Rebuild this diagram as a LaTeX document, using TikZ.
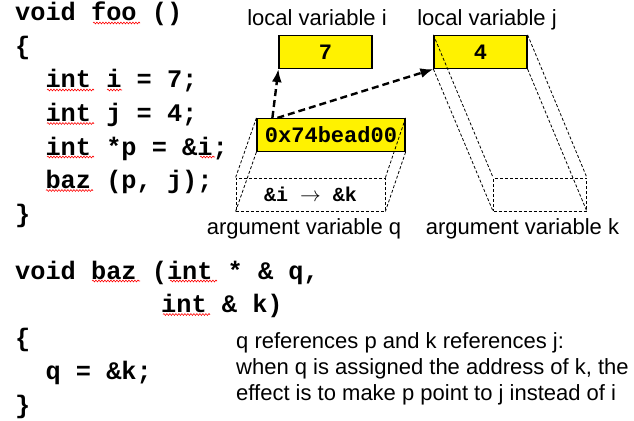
\documentclass[tikz,border=0pt]{standalone}
\usepackage{fontspec}
\setmainfont{Liberation Sans}
\setmonofont{Liberation Mono}
\usetikzlibrary{arrows.meta,decorations.pathmorphing}
\newcommand{\codesize}{\fontsize{25.3}{30}\selectfont}
\newcommand{\txtsize}{\fontsize{22}{26}\selectfont}
\tikzset{
    codesty/.style={anchor=base west, inner sep=0pt, font=\ttfamily\bfseries\codesize},
    labelsty/.style={anchor=base, inner sep=0pt, font=\txtsize},
    notesty/.style={anchor=base west, inner sep=0pt, font=\txtsize},
    valsty/.style={draw, line width=1.2pt, fill=yellow, rectangle, inner sep=0pt, minimum height=33pt, font=\ttfamily\bfseries\txtsize},
    argsty/.style={draw, line width=0.8pt, dash pattern=on 3pt off 2pt, rectangle, inner sep=0pt, minimum height=33pt, font=\ttfamily\bfseries\fontsize{20}{24}\selectfont},
    caststy/.style={line width=0.8pt, dash pattern=on 3pt off 2pt},
    ptrsty/.style={-{Latex[length=13pt,width=10pt]}, line width=2.4pt, dash pattern=on 7pt off 4pt},
    squigsty/.style={red, line width=0.6pt, decorate, decoration={snake, amplitude=0.9pt, segment length=3pt}},
}

\begin{document}
\begin{tikzpicture}[x=1pt,y=-1pt]
  \useasboundingbox (0,0) rectangle (634,420);

  % caller
  \node[codesty] (foo0) at (15,21)    {void foo ()};
  \node[codesty] (foo1) at (15,54.5)  {\{};
  \node[codesty] (foo2) at (15,88)    {\ \ int i = 7;};
  \node[codesty] (foo3) at (15,121.5) {\ \ int j = 4;};
  \node[codesty] (foo4) at (15,155)   {\ \ int *p = \&i;};
  \node[codesty] (foo5) at (15,188.5) {\ \ baz (p, j);};
  \node[codesty] (foo6) at (15,222)   {\}};

  % callee
  \node[codesty] (baz0) at (15,279)   {void baz (int * \& q,};
  \node[codesty] (baz1) at (161,312.5) {int \& k)};
  \node[codesty] (baz2) at (15,346)   {\{};
  \node[codesty] (baz3) at (15,379.5) {\ \ q = \&k;};
  \node[codesty] (baz4) at (15,413)   {\}};

  % spell checker marks
  \foreach \a/\b/\y in {93/140/23, 47/94/90, 107/122/90, 47/94/123.5, 47/94/157, 200/215/157,
                        46/93/190.5, 92/140/281, 170/217/281, 163/210/314.5}
    \draw[squigsty] (\a,\y) -- (\b,\y);

  % memory cells
  \node[valsty, minimum width=93pt]  (vali) at (325.5,52)  {7};
  \node[valsty, minimum width=93pt]  (valj) at (480.5,52)  {4};
  \node[valsty, minimum width=148pt] (ptr)  at (331,135)   {0x74bead00};
  \node[argsty, minimum width=149pt] (argq) at (310.5,194.5) {\&i\ $\rightarrow$\ \&k};
  \node[argsty, minimum width=93pt]  (argk) at (540,194.5) {};

  \foreach \c in {north west,north east,south west,south east} {
    \draw[caststy] (ptr.\c) -- (argq.\c);
    \draw[caststy] (valj.\c) -- (argk.\c);
  }

  \draw[ptrsty] ([xshift=16pt]ptr.north west) -- (vali.south west);
  \draw[ptrsty] ([xshift=21pt]ptr.north west) -- (valj.south west);

  \node[labelsty] (labi) at (317,25.5) {local variable i};
  \node[labelsty] (labj) at (487,25.5) {local variable j};
  \node[labelsty] (labq) at (304,234)  {argument variable q};
  \node[labelsty] (labk) at (522.5,234) {argument variable k};

  \node[notesty] (note1) at (236,348) {q references p and k references j:};
  \node[notesty] (note2) at (236,374) {when q is assigned the address of k, the};
  \node[notesty] (note3) at (236,400) {effect is to make p point to j instead of i};
\end{tikzpicture}
\end{document}
